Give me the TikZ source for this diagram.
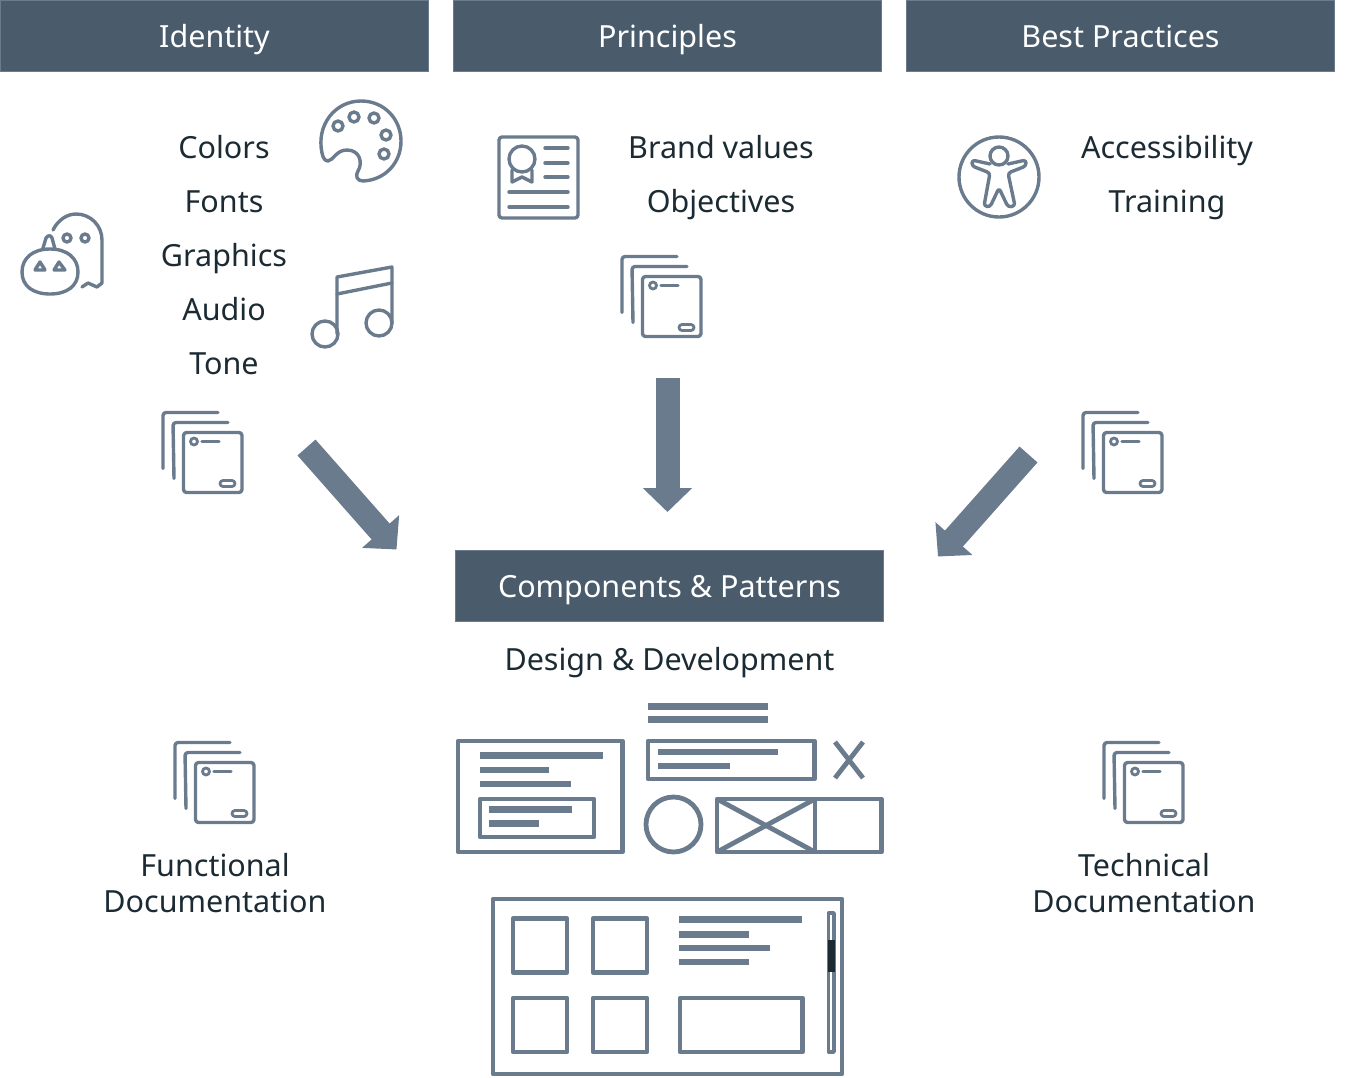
\documentclass[tikz,border=0pt]{standalone}
\usepackage{fontspec}
\setmainfont{Noto Sans}
\usetikzlibrary{arrows.meta}
\definecolor{headerblue}{HTML}{4A5C6C}
\definecolor{iconblue}{HTML}{6A7B8D}
\definecolor{inkdark}{HTML}{1C2B33}
\tikzstyle{header}=[draw=iconblue, fill=headerblue, text=white, line width=1pt, inner sep=0, minimum width=428pt, minimum height=71.5pt]
\tikzstyle{label}=[text=inkdark, inner sep=0, anchor=base, font=\fontsize{30.5}{30.5}\selectfont]
\tikzstyle{icon}=[draw=iconblue, line width=3.4pt, line join=round, line cap=round]
\tikzstyle{wire}=[draw=iconblue, line width=4.8pt, line join=round]
\tikzstyle{wirebar}=[fill=iconblue]
\tikzstyle{blockarrow}=[draw=iconblue, line width=24pt, -{Triangle[length=24pt, width=48pt, fill=iconblue, color=iconblue]}]
% stack of pages, (#1) is its upper left corner
\newcommand{\pagestack}[1]{
    \begin{scope}[shift={(#1)}]
        \draw[icon, rounded corners=3pt] (0, 56) -- (0, 0) -- (55, 0);
        \draw[icon, rounded corners=3pt] (11, 66) -- (10, 10) -- (65, 10);
        \draw[icon, rounded corners=3pt] (20.5, 20) rectangle (79, 80);
        \draw[icon, line width=2.8pt] (31, 29) circle (3.5);
        \draw[icon] (39, 29) -- (56, 29);
        \draw[icon, rounded corners=3pt, line width=2.8pt] (57, 68) rectangle (72, 74);
    \end{scope}
}
\begin{document}
\begin{tikzpicture}[x=1pt, y=-1pt]
    \useasboundingbox (0, 0) rectangle (1358, 1077);
    % headers
    \node[header] (identity) at (214.5, 36) {};
    \node[header] (principles) at (667.5, 36) {};
    \node[header] (practices) at (1120.5, 36) {};
    \node[header] (components) at (669.5, 586) {};
    \node[label, text=white] (identitytext) at (214.5, 47.5) {Identity};
    \node[label, text=white] (principlestext) at (667.5, 47.5) {Principles};
    \node[label, text=white] (practicestext) at (1120.5, 47.5) {Best Practices};
    \node[label, text=white] (componentstext) at (669.5, 597.5) {Components \& Patterns};
    % labels
    \node[label] (colors) at (224, 158.5) {Colors};
    \node[label] (fonts) at (224, 212.5) {Fonts};
    \node[label] (graphics) at (224, 266.5) {Graphics};
    \node[label] (audio) at (224, 320.5) {Audio};
    \node[label] (tone) at (224, 374.5) {Tone};
    \node[label] (brand) at (721, 158.5) {Brand values};
    \node[label] (objectives) at (721, 212.5) {Objectives};
    \node[label] (accessibility) at (1167, 158.5) {Accessibility};
    \node[label] (training) at (1167, 212.5) {Training};
    \node[label] (design) at (669.5, 670) {Design \& Development};
    \node[label] (functional) at (215, 876.5) {Functional};
    \node[label] (functionaldoc) at (215, 912.5) {Documentation};
    \node[label] (technical) at (1144, 876.5) {Technical};
    \node[label] (technicaldoc) at (1144, 912.5) {Documentation};
    % arrows
    \coordinate (identitytail) at (306.5, 447.5);
    \coordinate (identitytip) at (396.5, 549.5);
    \coordinate (principlestail) at (667.5, 378);
    \coordinate (principlestip) at (667.5, 512);
    \coordinate (practicestail) at (1028.5, 454.5);
    \coordinate (practicestip) at (938, 556.5);
    \draw[blockarrow] (identitytail) -- (identitytip);
    \draw[blockarrow] (principlestail) -- (principlestip);
    \draw[blockarrow] (practicestail) -- (practicestip);
    % page stacks
    \pagestack{163, 412.5}
    \pagestack{622, 256.5}
    \pagestack{1083, 412.5}
    \pagestack{175, 742.5}
    \pagestack{1104, 742.5}
    % palette
    \draw[icon] (322, 153) .. controls (316, 125) and (335, 101) .. (361, 101)
        .. controls (385, 101) and (401, 120) .. (401, 141)
        .. controls (401, 163) and (385, 180) .. (363, 181)
        .. controls (357, 181) and (355, 176) .. (358, 171)
        .. controls (363, 163) and (360, 150) .. (347, 150)
        .. controls (336, 150) and (334, 160) .. (328, 161)
        .. controls (325, 161) and (323, 158) .. (322, 153) -- cycle;
    \foreach \px/\py in {338/126, 354/117, 374/118, 386/135, 384/154}
        \draw[icon] (\px, \py) circle (5);
    % pumpkin and ghost
    \draw[icon] (53, 230) .. controls (58, 220) and (67, 214) .. (76, 214)
        .. controls (91, 214) and (102, 226) .. (102, 240) -- (102, 283) -- (97, 287) -- (88, 283) -- (82, 287);
    \draw[icon] (22, 272) .. controls (22, 258) and (33, 249) .. (50, 249)
        .. controls (67, 249) and (78, 258) .. (78, 272)
        .. controls (78, 286) and (67, 294) .. (50, 294)
        .. controls (33, 294) and (22, 286) .. (22, 272) -- cycle;
    \draw[icon] (43, 248) -- (46, 238) .. controls (48, 235) and (51, 235) .. (52, 238) -- (55, 249);
    \draw[icon] (40, 262) -- (35, 270) -- (45, 270) -- cycle;
    \draw[icon] (59, 262) -- (54, 270) -- (65, 270) -- cycle;
    \draw[icon] (67, 238) circle (4);
    \draw[icon] (85, 238) circle (4);
    % music note
    \draw[icon] (325, 334) circle (13);
    \draw[icon] (379, 323) circle (13);
    \draw[icon] (337, 334) -- (337, 277) -- (392, 267) -- (392, 323);
    \draw[icon] (337, 294) -- (392, 283);
    % certificate
    \draw[icon, rounded corners=3pt] (499, 137) rectangle (578, 218);
    \draw[icon] (522, 159) circle (13);
    \draw[icon] (512, 170) -- (512, 182) -- (522, 177) -- (532, 182) -- (532, 170);
    \foreach \ly in {148, 163, 177}
        \draw[icon] (545, \ly) -- (568, \ly);
    \foreach \ly in {192, 207}
        \draw[icon] (509, \ly) -- (568, \ly);
    % accessibility
    \draw[icon] (999, 177) circle (40);
    \draw[icon] (999, 156) circle (9);
    \draw[icon, rounded corners=3pt] (990, 164) -- (972, 160) -- (972, 166) -- (990, 173) -- (984, 206) -- (990, 207) -- (999, 188) -- (1008, 207) -- (1015, 206) -- (1008, 173) -- (1026, 166) -- (1026, 160) -- (1008, 164);
    % left card
    \draw[wire] (458, 741) rectangle (622.5, 852);
    \fill[wirebar] (480, 752) rectangle (603, 759);
    \fill[wirebar] (480, 767) rectangle (549, 773);
    \fill[wirebar] (480, 781) rectangle (571, 787);
    \draw[wire] (480, 799) rectangle (594, 837);
    \fill[wirebar] (489, 806) rectangle (572, 813);
    \fill[wirebar] (489, 820) rectangle (539, 827);
    % small widgets
    \fill[wirebar] (648, 703) rectangle (768, 710);
    \fill[wirebar] (648, 716) rectangle (768, 723);
    \draw[wire] (648, 741) rectangle (814.5, 779);
    \fill[wirebar] (658, 749) rectangle (778, 755);
    \fill[wirebar] (658, 763) rectangle (730, 769);
    \draw[wire] (835, 742) -- (863, 778);
    \draw[wire] (863, 742) -- (835, 778);
    \draw[wire] (673.5, 824.5) circle (27.5);
    \draw[wire] (717, 799) rectangle (881.5, 852);
    \draw[wire] (815, 799) -- (815, 852);
    \draw[wire] (717, 799) -- (815, 852);
    \draw[wire] (717, 852) -- (815, 799);
    % page layout
    \draw[wire] (493, 899) rectangle (842, 1074);
    \foreach \sx in {513, 593}
        \foreach \sy in {918.5, 998}
            \draw[wire] (\sx, \sy) rectangle +(54, 54);
    \fill[wirebar] (679, 916) rectangle (802, 923);
    \fill[wirebar] (679, 931) rectangle (749, 938);
    \fill[wirebar] (679, 945) rectangle (770, 951);
    \fill[wirebar] (679, 959) rectangle (749, 965);
    \draw[wire] (680, 998) rectangle (802.5, 1052);
    \draw[wire, line width=3.5pt] (828.5, 913) rectangle (834, 1052);
    \fill[inkdark] (828, 940) rectangle (835, 972);
\end{tikzpicture}
\end{document}
